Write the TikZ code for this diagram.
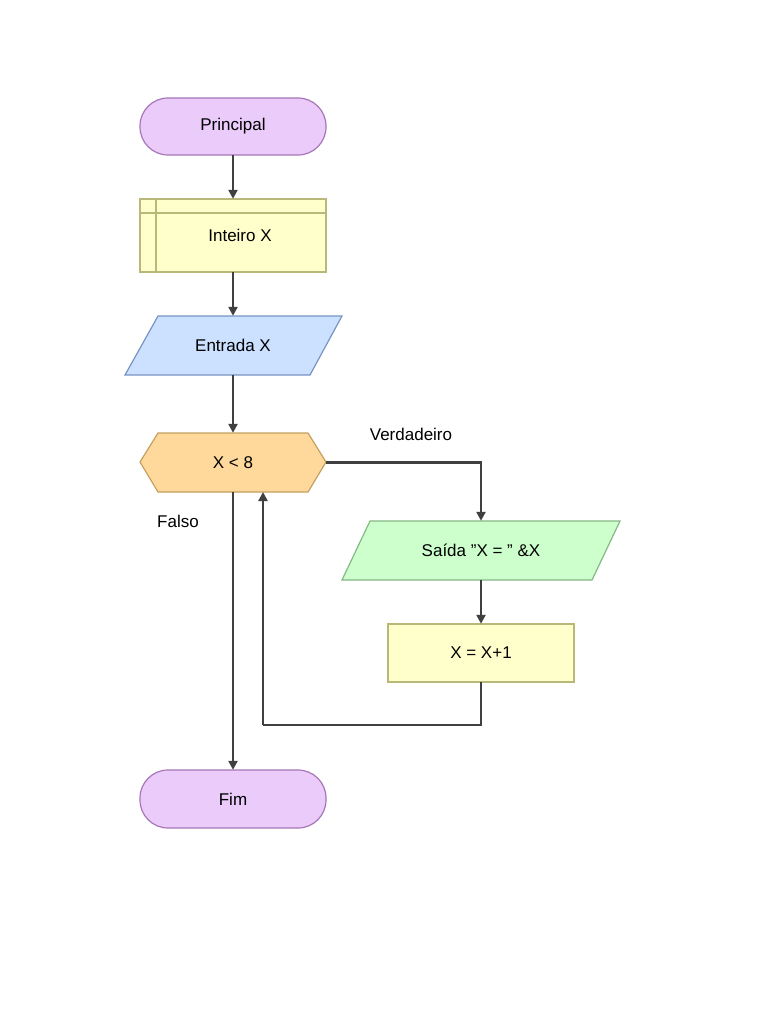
\documentclass[tikz,border=0pt]{standalone}
\usepackage{fontspec}
\setmainfont{Liberation Sans}
\usetikzlibrary{arrows.meta}
\begin{document}
\begin{tikzpicture}[x=1pt,y=-1pt,
  lbl/.style={font=\fontsize{17}{20}\selectfont},
  box/.style={inner sep=0,minimum width=#1},
  ar/.style={draw=black!75,line width=2.6pt,-{Triangle[length=9pt,width=9pt]}},
  ln/.style={draw=black!75,line width=2.6pt}]
\useasboundingbox (0,0) rectangle (768,1024);
\definecolor{pu}{HTML}{EACBFA}\definecolor{pub}{HTML}{A676B8}
\definecolor{ye}{HTML}{FFFFCC}\definecolor{yeb}{HTML}{B8B878}
\definecolor{bl}{HTML}{CCE0FF}\definecolor{blb}{HTML}{7894C4}
\definecolor{or}{HTML}{FFD89C}\definecolor{orb}{HTML}{C4A060}
\definecolor{gr}{HTML}{CCFFCC}\definecolor{grb}{HTML}{84B884}
% shapes
\filldraw[fill=pu,draw=pub,line width=1.2pt,rounded corners=28] (140,98) rectangle (326,155);
\filldraw[fill=ye,draw=yeb,line width=1.2pt] (140,199) rectangle (326,272);
\draw[yeb,line width=1.2pt] (140,213)--(326,213) (156,199)--(156,272);
\filldraw[fill=bl,draw=blb,line width=1.2pt] (158,316)--(342,316)--(310,375)--(125,375)--cycle;
\filldraw[fill=or,draw=orb,line width=1.2pt] (140,462)--(158,433)--(308,433)--(326,462)--(308,492)--(158,492)--cycle;
\filldraw[fill=gr,draw=grb,line width=1.2pt] (370,521)--(620,521)--(592,580)--(342,580)--cycle;
\filldraw[fill=ye,draw=yeb,line width=1.2pt] (388,624) rectangle (574,682);
\filldraw[fill=pu,draw=pub,line width=1.2pt,rounded corners=28] (140,770) rectangle (326,828);
% nodes
\node[lbl,box=186,minimum height=57] (p) at (233,126.5) {Principal};
\node[lbl,box=186,minimum height=73] (i) at (233,235.5) {\hspace{14pt}Inteiro X};
\node[lbl,box=186,minimum height=59] (e) at (233,345.5) {Entrada X};
\node[lbl,box=186,minimum height=59] (d) at (233,462.5) {X < 8};
\node[lbl,box=250,minimum height=59] (s) at (481,550.5) {Saída "X = " \&X};
\node[lbl,box=186,minimum height=58] (x) at (481,653) {X = X+1};
\node[lbl,box=186,minimum height=58] (f) at (233,799) {Fim};
\node[lbl] at (411,434) {Verdadeiro};
\node[lbl] at (178,521) {Falso};
\coordinate (c1) at (481,725);
\coordinate (c2) at (263,725);
% connectors
\draw[ar] (p.south)--(i.north);
\draw[ar] (i.south)--(e.north);
\draw[ar] (e.south)--(d.north);
\draw[ar] (d.east)-|(s.north);
\draw[ar] (s.south)--(x.north);
\draw[ar] (d.south)--(f.north);
\draw[ln] (x.south)--(c1)--(c2);
\draw[ar] (c2)--(263,492);
\end{tikzpicture}
\end{document}
